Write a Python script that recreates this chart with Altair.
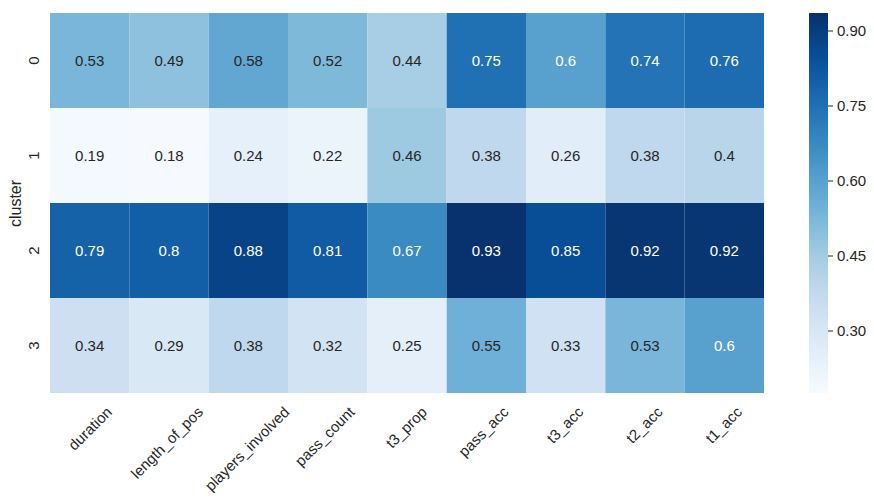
import altair as alt
import pandas as pd

clusters = ["0", "1", "2", "3"]
features = ["duration", "length_of_pos", "players_involved", "pass_count",
            "t3_prop", "pass_acc", "t3_acc", "t2_acc", "t1_acc"]
row0 = [0.53, 0.49, 0.58, 0.52, 0.44, 0.75, 0.60, 0.74, 0.76]
row1 = [0.19, 0.18, 0.24, 0.22, 0.46, 0.38, 0.26, 0.38, 0.40]
row2 = [0.79, 0.80, 0.88, 0.81, 0.67, 0.93, 0.85, 0.92, 0.92]
row3 = [0.34, 0.29, 0.38, 0.32, 0.25, 0.55, 0.33, 0.53, 0.60]
colorbar_ticks = [0.30, 0.45, 0.60, 0.75, 0.90]
color_domain = [0.176, 0.936]
blues = ["#f7fbff", "#deebf7", "#c6dbef", "#9ecae1", "#6baed6",
         "#4292c6", "#2171b5", "#08519c", "#08306b"]

records = []
for c, row in zip(clusters, [row0, row1, row2, row3]):
    for f, v in zip(features, row):
        records.append({"cluster": c, "feature": f, "value": v})
df = pd.DataFrame(records)
ticks_df = pd.DataFrame({"tick": colorbar_ticks})

FONT = "Liberation Sans"
DARK = "#262626"
W, H = 714, 380

xenc = alt.X(
    "feature:N", sort=features,
    scale=alt.Scale(paddingInner=0, paddingOuter=0),
    axis=alt.Axis(
        title=None, labelAngle=-45, labelAlign="right", labelBaseline="top",
        labelOffset={"expr": "0.354*(length(datum.label)*6.6 - 11)"},
        labelPadding=11, ticks=False, domain=False, labelFontSize=15,
        labelFont=FONT, labelColor=DARK,
    ),
)
yenc = alt.Y(
    "cluster:N", sort=clusters,
    scale=alt.Scale(paddingInner=0, paddingOuter=0),
    axis=alt.Axis(
        title="cluster", labelAngle=270, labelAlign="center", labelBaseline="bottom",
        labelPadding=9, ticks=False, domain=False, labelFontSize=15,
        labelFont=FONT, labelColor=DARK, titleFont=FONT, titleFontSize=16,
        titleFontWeight="normal", titleColor=DARK, titlePadding=3,
    ),
)

base = alt.Chart(df)
rect = base.mark_rect().encode(
    x=xenc, y=yenc,
    color=alt.Color(
        "value:Q",
        scale=alt.Scale(domain=color_domain, range=blues, interpolate="rgb"),
        legend=alt.Legend(
            title=None, values=colorbar_ticks, format=".2f",
            gradientLength=H, gradientThickness=19, gradientStrokeWidth=0,
            labelFontSize=15, labelFont=FONT, labelColor=DARK,
            labelOffset=9, offset=45, padding=0, direction="vertical",
        ),
    ),
)
text = base.mark_text(fontSize=15, font=FONT).encode(
    x=alt.X("feature:N", sort=features),
    y=alt.Y("cluster:N", sort=clusters),
    text=alt.Text("value:Q", format=".2~g"),
    color=alt.condition(alt.datum.value > 0.59, alt.value("white"), alt.value(DARK)),
)
heat = alt.layer(rect, text)

cbar_ticks = alt.Chart(ticks_df).mark_rule(strokeWidth=1, color=DARK).encode(
    y=alt.Y("tick:Q", scale=alt.Scale(domain=color_domain), axis=None),
    x=alt.value(W + 45 + 19),
    x2=alt.value(W + 45 + 19 + 5),
)

chart = (
    alt.layer(heat, cbar_ticks)
    .resolve_scale(y="independent")
    .properties(
        width=W, height=H,
        autosize=alt.AutoSizeParams(type="none"),
        padding={"left": 42, "top": 5, "right": 102, "bottom": 100},
        background="white",
    )
    .configure_view(strokeWidth=0)
)

chart.save("out.html", embed_options={"renderer": "svg", "actions": False})
